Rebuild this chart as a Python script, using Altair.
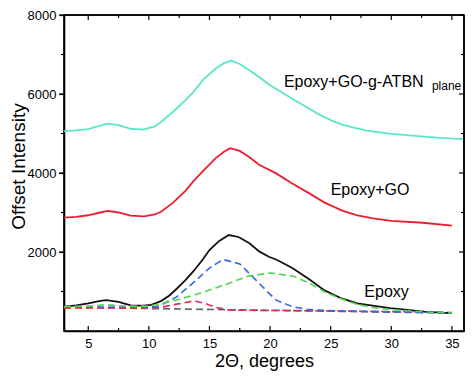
import altair as alt
import pandas as pd

# ---- data ----
CYAN_X = [3, 4, 5, 6, 6.6, 7.5, 8.5, 9.5, 10.5, 11, 12, 13, 13.7, 14.5, 15.5, 16.2, 16.8, 17.5, 18.3, 19, 20, 21, 22, 23, 24, 25, 26, 27, 28, 30, 32, 34, 36]
CYAN_Y = [5060, 5080, 5110, 5200, 5250, 5210, 5120, 5100, 5180, 5290, 5550, 5840, 6060, 6370, 6640, 6780, 6840, 6760, 6600, 6450, 6220, 6040, 5850, 5670, 5490, 5340, 5220, 5140, 5070, 4990, 4940, 4890, 4860]

RED_X = [3, 4, 5, 6, 6.6, 7.5, 8.5, 9.6, 10.5, 11, 12, 13, 13.7, 14.5, 15.5, 16.2, 16.7, 17.5, 18.3, 19.1, 20.5, 21.8, 23.2, 24.5, 26, 27.2, 28.5, 30, 32.6, 35]
RED_Y = [2870, 2890, 2930, 3000, 3040, 3000, 2920, 2900, 2950, 3020, 3250, 3540, 3800, 4060, 4370, 4540, 4630, 4560, 4400, 4210, 3990, 3740, 3490, 3250, 3040, 2930, 2850, 2790, 2740, 2670]

BLACK_X = [3, 4, 5, 6, 6.5, 7.5, 8.5, 9.5, 10.2, 11, 11.7, 12.3, 13, 13.7, 14.4, 15, 15.8, 16.6, 17.4, 18.3, 19.1, 19.9, 20.5, 21.8, 23.2, 24.5, 25.9, 27.2, 28.6, 29.9, 31.3, 32.7, 34, 35]
BLACK_Y = [617, 650, 700, 760, 782, 740, 650, 640, 660, 757, 900, 1070, 1280, 1520, 1790, 2050, 2280, 2430, 2380, 2220, 2015, 1880, 1810, 1603, 1317, 1028, 824, 700, 634, 577, 535, 493, 465, 450]

BLUE_X = [3, 10.5, 11, 12.3, 13.7, 15.05, 16.1, 17.5, 18.8, 19.9, 20.5, 21.8, 23.2, 26, 30, 35]
BLUE_Y = [600, 610, 658, 863, 1233, 1603, 1810, 1700, 1300, 960, 780, 620, 540, 505, 485, 460]

GREEN_X = [3, 5, 6.5, 8, 10, 11.7, 13.7, 16.1, 18.2, 20.1, 22, 23.3, 24.7, 26.1, 27.2, 28.6, 29.9, 32.7, 35]
GREEN_Y = [620, 630, 665, 630, 630, 740, 905, 1150, 1390, 1470, 1380, 1200, 960, 790, 670, 590, 545, 485, 455]

PINK_X = [3, 6, 8, 10, 11, 12.3, 13.7, 14.6, 15.5, 16.6, 20, 25, 30, 35]
PINK_Y = [580, 585, 585, 580, 600, 680, 760, 700, 600, 530, 520, 510, 490, 470]

GRAY_X = [3, 35]
GRAY_Y = [600, 455]

LABELS = ["Epoxy+GO-g-ATBN", "Epoxy+GO", "Epoxy"]
LABEL_X = [21.14, 25.0, 27.78]
LABEL_Y = [6165, 3438, 863]
SUB_TEXT = ["plane"]

X_MAJOR = [5, 10, 15, 20, 25, 30, 35]
X_MINOR = [7.5, 12.5, 17.5, 22.5, 27.5, 32.5]
Y_MAJOR = [2000, 4000, 6000, 8000]
Y_MINOR = [1000, 3000, 5000, 7000]

W, H = 400, 316
FONT = "Liberation Sans"
XS = alt.Scale(domain=[3, 36], nice=False, zero=False)
YS = alt.Scale(domain=[0, 8000], nice=False, zero=False)

MAIN_X = alt.Axis(orient="bottom", values=X_MAJOR, ticks=False, domain=True, domainColor="black",
                  domainWidth=1.6, grid=False,
                  labelFont=FONT, labelFontSize=13, labelColor="black", labelPadding=6,
                  title="2Θ, degrees", titleFont=FONT, titleFontSize=18, titleFontWeight="normal",
                  titleColor="black", titleBaseline="alphabetic", titleY=35, titleX=W / 2)
MAIN_Y = alt.Axis(orient="left", values=Y_MAJOR, format="d", tickSize=5, ticks=True,
                  domain=True, domainColor="black", domainWidth=1.6, grid=False,
                  tickColor="black", tickWidth=1.2,
                  labelFont=FONT, labelFontSize=13, labelColor="black", labelPadding=3,
                  title="Offset Intensity", titleFont=FONT, titleFontSize=19,
                  titleFontWeight="normal", titleColor="black", titleAngle=270,
                  titleBaseline="top", titleX=-55, titleY=151)


def X(field="x"):
    return alt.X(f"{field}:Q", scale=XS, axis=MAIN_X)


def Y(field="y"):
    return alt.Y(f"{field}:Q", scale=YS, axis=MAIN_Y)


def df(xs, ys):
    return pd.DataFrame({"x": xs, "y": ys})


def line(data, color, dash=None, width=1.8):
    kw = dict(color=color, strokeWidth=width, clip=True)
    if dash:
        kw["strokeDash"] = dash
    return alt.Chart(data).mark_line(**kw).encode(x=X(), y=Y())


def xticks(values, y0, y1):
    return alt.Chart(pd.DataFrame({"v": values})).mark_rule(color="black", strokeWidth=1.2).encode(
        x=X("v"), y=alt.value(y0), y2=alt.value(y1))


def yticks(values, x0, x1):
    return alt.Chart(pd.DataFrame({"v": values})).mark_rule(color="black", strokeWidth=1.2).encode(
        y=Y("v"), x=alt.value(x0), x2=alt.value(x1))


frame_df = pd.DataFrame({"v": [0]})
frame_top = alt.Chart(frame_df).mark_rule(color="black", strokeWidth=1.6).encode(
    x=alt.value(0), x2=alt.value(W), y=alt.value(0))
frame_right = alt.Chart(frame_df).mark_rule(color="black", strokeWidth=1.6).encode(
    x=alt.value(W), y=alt.value(0), y2=alt.value(H))

cyan = line(df(CYAN_X, CYAN_Y), "#5BE6C6")
red = line(df(RED_X, RED_Y), "#EE1C2E")
black = line(df(BLACK_X, BLACK_Y), "#111111")
blue = line(df(BLUE_X, BLUE_Y), "#2F6BE6", dash=[7, 4], width=1.6)
green = line(df(GREEN_X, GREEN_Y), "#4FD64F", dash=[7, 4], width=1.6)
pink = line(df(PINK_X, PINK_Y), "#E8284E", dash=[7, 4], width=1.6)
gray = line(df(GRAY_X, GRAY_Y), "#59636E", dash=[7, 4], width=1.6)

ticks = [
    xticks(X_MAJOR, H, H - 5), xticks(X_MINOR, H, H - 3),
    xticks(X_MAJOR, 0, 5), xticks(X_MINOR, 0, 3),
    yticks(Y_MAJOR, 0, -5), yticks(Y_MINOR, 0, -3),
    yticks(Y_MAJOR, W, W - 5), yticks(Y_MINOR, W, W - 3),
]

labels = alt.Chart(pd.DataFrame({"x": LABEL_X, "y": LABEL_Y, "t": LABELS})).mark_text(
    font=FONT, fontSize=16, align="left", baseline="alphabetic", color="black"
).encode(x=X(), y=Y(), text="t:N")

sub = alt.Chart(pd.DataFrame({"x": LABEL_X[:1], "y": LABEL_Y[:1], "t": SUB_TEXT})).mark_text(
    font=FONT, fontSize=12, align="left", baseline="alphabetic", color="black", dx=148, dy=3
).encode(x=X(), y=Y(), text="t:N")

panel = alt.layer(cyan, gray, pink, red, black, blue, green, *ticks, labels, sub,
                  frame_top, frame_right).properties(width=W, height=H)

chart = alt.hconcat(panel).properties(
    background="white",
    padding=0,
).configure_view(stroke="black", strokeWidth=1.6)

chart.save("out.html", embed_options={"renderer": "svg", "actions": False})
